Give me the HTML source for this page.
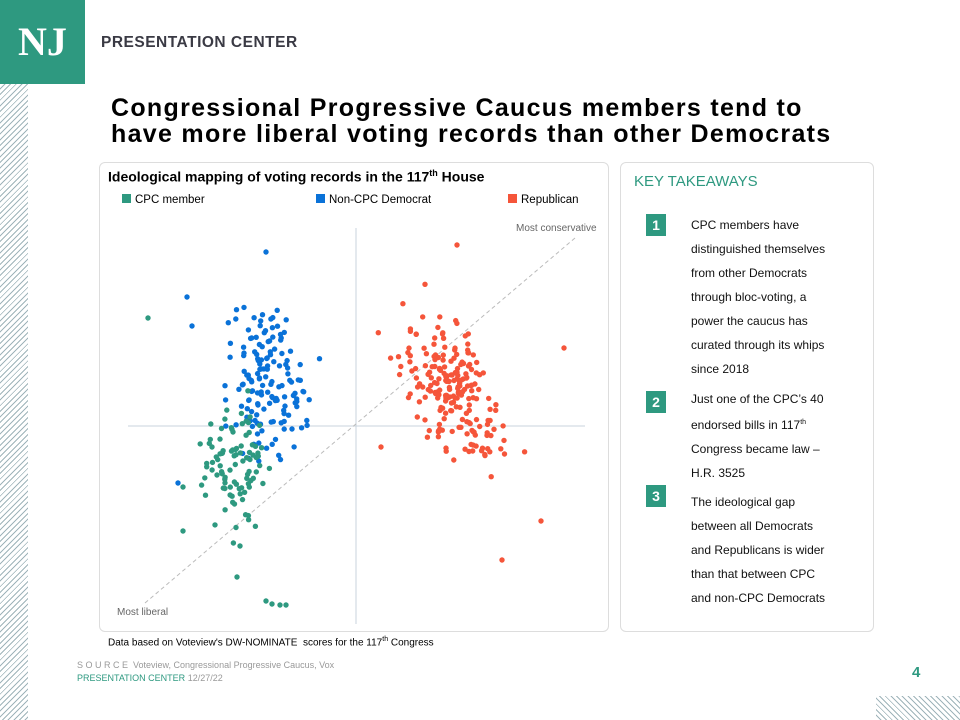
<!DOCTYPE html><html><head><style>
body{margin:0;width:960px;height:720px;position:relative;background:#fff;font-family:"Liberation Sans",sans-serif;overflow:hidden}
.abs{position:absolute}
.hatchL{left:0;top:84px;width:28px;height:636px;background:repeating-linear-gradient(135deg,#fff 0 3px,#9fb4ba 3px 4px)}
.hatchR{left:876px;top:696px;width:84px;height:24px;background:repeating-linear-gradient(45deg,#fff 0 3px,#9fb4ba 3px 4px)}
.num{background:#2e9980;color:#fff;font-weight:bold;font-size:14px;width:20px;height:22px;text-align:center;line-height:22px}
.tk{font-size:12px;line-height:24px;color:#111;width:160px}
.tk div{white-space:nowrap}
</style></head><body>
<div class="abs" style="left:0;top:0;width:85px;height:84px;background:#2e9980;color:#fff;font-family:'Liberation Serif',serif;font-weight:bold;font-size:40px;line-height:84px;text-align:center">NJ</div>
<div class="abs hatchL"></div><div class="abs hatchR"></div>
<div class="abs" style="left:101px;top:34px;font-size:15.5px;font-weight:bold;letter-spacing:0.5px;color:#3a3a44">PRESENTATION CENTER</div>
<div class="abs" style="left:111px;top:95px;font-size:25px;letter-spacing:1.3px;font-weight:bold;line-height:26px;color:#000;white-space:nowrap">Congressional Progressive Caucus members tend to<br>have more liberal voting records than other Democrats</div>
<div class="abs" style="left:99px;top:162px;width:508px;height:468px;border:1px solid #ddd;border-radius:6px"></div>
<div class="abs" style="left:620px;top:162px;width:252px;height:468px;border:1px solid #ddd;border-radius:6px"></div>
<div class="abs" style="left:108px;top:168px;font-size:14px;font-weight:bold">Ideological mapping of voting records in the 117<sup style="font-size:9px">th</sup> House</div>
<div class="abs" style="left:122px;top:194px;font-size:11.5px"><span style="display:inline-block;width:9px;height:9px;background:#2e9980;margin-right:4px"></span>CPC member</div>
<div class="abs" style="left:316px;top:194px;font-size:11.5px"><span style="display:inline-block;width:9px;height:9px;background:#0a72d8;margin-right:4px"></span>Non-CPC Democrat</div>
<div class="abs" style="left:508px;top:194px;font-size:11.5px"><span style="display:inline-block;width:9px;height:9px;background:#f5553a;margin-right:4px"></span>Republican</div>
<svg class="abs" style="left:0;top:0" width="960" height="720" id="sv">
<line x1="128" y1="426" x2="585" y2="426" stroke="#c9d3dc"/>
<line x1="356" y1="228" x2="356" y2="624" stroke="#c9d3dc"/>
<line x1="145" y1="603" x2="575" y2="238" stroke="#bbb" stroke-dasharray="4,3"/>
<text x="516" y="231" font-size="10" fill="#666">Most conservative</text>
<text x="117" y="615" font-size="10" fill="#666">Most liberal</text>
</svg>
<div class="abs" style="left:108px;top:636px;font-size:10px">Data based on Voteview's DW-NOMINATE&nbsp; scores for the 117<sup style="font-size:7px">th</sup> Congress</div>
<div class="abs" style="left:634px;top:173px;font-size:15px;color:#2e9980">KEY TAKEAWAYS</div>
<div class="abs num" style="left:646px;top:214px">1</div>
<div class="abs num" style="left:646px;top:391px">2</div>
<div class="abs num" style="left:646px;top:485px">3</div>
<div class="abs tk" style="left:691px;top:213px"><div>CPC members have</div><div>distinguished themselves</div><div>from other Democrats</div><div>through bloc-voting, a</div><div>power the caucus has</div><div>curated through its whips</div><div>since 2018</div></div>
<div class="abs tk" style="left:691px;top:387px"><div>Just one of the CPC’s 40</div><div>endorsed bills in 117<sup style="font-size:7px">th</sup></div><div>Congress became law –</div><div>H.R. 3525</div></div>
<div class="abs tk" style="left:691px;top:490px"><div>The ideological gap</div><div>between all Democrats</div><div>and Republicans is wider</div><div>than that between CPC</div><div>and non-CPC Democrats</div></div>
<div class="abs" style="left:77px;top:660px;font-size:9px;color:#999"><span style="letter-spacing:2.5px">SOURCE</span> Voteview, Congressional Progressive Caucus, Vox</div>
<div class="abs" style="left:77px;top:673px;font-size:9px;color:#2e9980">PRESENTATION CENTER <span style="color:#999">12/27/22</span></div>
<div class="abs" style="left:912px;top:664px;font-size:15px;font-weight:bold;color:#2e9980">4</div>
<script>
var s=12345;function r(){s=(s*16807)%2147483647;return s/2147483647}
function g(){return (r()+r()+r()+r()-2)*0.87}
var sv=document.getElementById('sv'),h='';
function d(x,y,c){h+='<circle cx="'+x.toFixed(1)+'" cy="'+y.toFixed(1)+'" r="2.7" fill="'+c+'"/>'}
for(var i=0;i<150;i++)d(265+g()*38,385+g()*75,'#0a72d8');
for(var i=0;i<95;i++)d(236+g()*30,462+g()*60,'#2e9980');
for(var i=0;i<210;i++){var y=388+g()*72;d(450+g()*40+(y-388)*0.35,y,'#f5553a')}
[[148,318,'#2e9980'],[187,297,'#0a72d8'],[192,326,'#0a72d8'],[237,577,'#2e9980'],[266,601,'#2e9980'],[272,604,'#2e9980'],[280,605,'#2e9980'],[286,605,'#2e9980'],[183,531,'#2e9980'],[457,245,'#f5553a'],[564,348,'#f5553a'],[381,447,'#f5553a'],[502,560,'#f5553a'],[541,521,'#f5553a'],[266,252,'#0a72d8'],[178,483,'#0a72d8'],[240,546,'#2e9980'],[183,487,'#2e9980']].forEach(function(p){d(p[0],p[1],p[2])});
sv.insertAdjacentHTML('beforeend',h);
</script>
</body></html>
